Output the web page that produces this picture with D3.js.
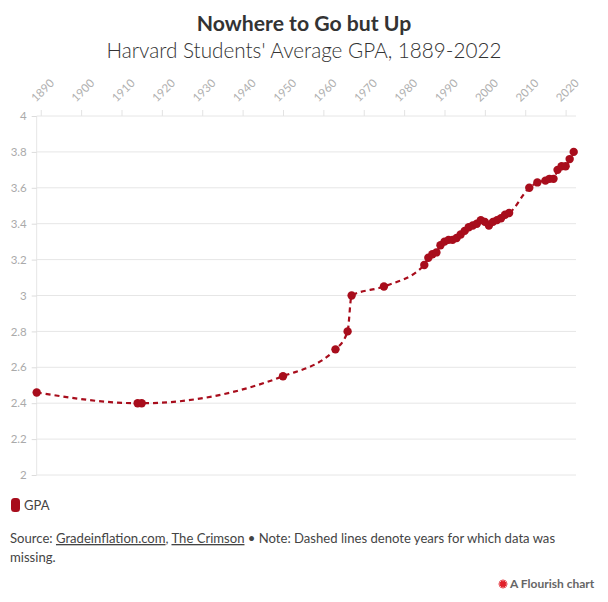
<!DOCTYPE html>
<html>
<head>
<meta charset="utf-8">
<script src="https://cdn.jsdelivr.net/npm/d3@7"></script>
<style>
  html, body { margin: 0; padding: 0; background: #fff; }
  svg { display: block; }
  text { font-family: Lato, "Source Sans Pro", "Noto Sans", sans-serif; }
</style>
</head>
<body>
<svg id="chart" width="608" height="602"></svg>
<script>
// ---- data ----
const years = [1889, 1914, 1915, 1950, 1963, 1966, 1967, 1975,
  1985, 1986, 1987, 1988, 1989, 1990, 1991, 1992, 1993, 1994, 1995,
  1996, 1997, 1998, 1999, 2000, 2001, 2002, 2003, 2004, 2005, 2006,
  2011, 2013, 2015, 2016, 2017, 2018, 2019, 2020, 2021, 2022];
const gpa = [2.46, 2.40, 2.40, 2.55, 2.70, 2.80, 3.00, 3.05,
  3.17, 3.21, 3.23, 3.24, 3.28, 3.30, 3.31, 3.31, 3.32, 3.34, 3.36,
  3.38, 3.39, 3.40, 3.42, 3.41, 3.39, 3.41, 3.42, 3.43, 3.45, 3.46,
  3.60, 3.63, 3.64, 3.65, 3.65, 3.70, 3.72, 3.72, 3.76, 3.80];
const xTickYears = [1890, 1900, 1910, 1920, 1930, 1940, 1950, 1960, 1970, 1980, 1990, 2000, 2010, 2020];
const yTickValues = [2, 2.2, 2.4, 2.6, 2.8, 3, 3.2, 3.4, 3.6, 3.8, 4];
const seriesName = "GPA";
const title = "Nowhere to Go but Up";
const subtitle = "Harvard Students' Average GPA, 1889-2022";

const data = years.map((y, i) => ({ year: y, gpa: gpa[i] }));

const red = "#a80d1c";
const svg = d3.select("#chart");

const x = d3.scaleLinear().domain([1889, 2022]).range([36.7, 573.7]);
const y = d3.scaleLinear().domain([2, 4]).range([475, 116]);
const plotRight = 576;

// titles
svg.append("text").attr("x", 304).attr("y", 31).attr("text-anchor", "middle")
  .attr("font-size", 21.2).attr("font-weight", 700).attr("fill", "#333").text(title);
svg.append("text").attr("x", 304).attr("y", 58).attr("text-anchor", "middle")
  .attr("font-size", 20.7).attr("font-weight", 300).attr("fill", "#333").text(subtitle);

// grid
const g = svg.append("g");
g.selectAll("line.grid").data(yTickValues).join("line")
  .attr("x1", x(1889)).attr("x2", plotRight)
  .attr("y1", d => y(d)).attr("y2", d => y(d))
  .attr("stroke", "#e6e6e6").attr("stroke-width", 1);

// y axis line
g.append("line").attr("x1", x(1889)).attr("x2", x(1889))
  .attr("y1", y(4)).attr("y2", y(2)).attr("stroke", "#e6e6e6");

// y axis ticks + labels
const yAxis = d3.axisLeft(y).tickValues(yTickValues).tickSize(5).tickPadding(5)
  .tickFormat(d => String(+d.toFixed(1)));
const ya = svg.append("g").attr("transform", `translate(${x(1889)},0)`).call(yAxis);
ya.select(".domain").remove();
ya.selectAll(".tick line").attr("stroke", "#dcdcdc");
ya.selectAll(".tick text").attr("fill", "#aaa").attr("font-size", 11.5)
  .attr("font-family", "Lato, sans-serif");

// x axis (top)
const xAxis = d3.axisTop(x).tickValues(xTickYears).tickSize(6).tickFormat(d3.format("d"));
const xa = svg.append("g").attr("transform", `translate(0,${y(4)})`).call(xAxis);
xa.select(".domain").remove();
xa.selectAll(".tick line").attr("stroke", "#e3e3e3");
xa.selectAll(".tick text").attr("fill", "#b0b0b0").attr("font-size", 11.5)
  .attr("font-family", "Lato, sans-serif")
  .attr("text-anchor", "middle").attr("dy", null).attr("y", null)
  .attr("dominant-baseline", "central")
  .attr("transform", "translate(1,-26) rotate(-45)");

// line
const line = d3.line().x(d => x(d.year)).y(d => y(d.gpa)).curve(d3.curveMonotoneX);
svg.append("path").datum(data).attr("d", line)
  .attr("fill", "none").attr("stroke", red).attr("stroke-width", 2.2)
  .attr("stroke-dasharray", "5,4");

// dots
svg.append("g").selectAll("circle").data(data).join("circle")
  .attr("cx", d => x(d.year)).attr("cy", d => y(d.gpa)).attr("r", 4.2)
  .attr("fill", red);

// legend
svg.append("rect").attr("x", 11).attr("y", 498).attr("width", 9).attr("height", 14)
  .attr("rx", 3.5).attr("fill", red);
svg.append("text").attr("x", 24).attr("y", 510).attr("font-size", 13)
  .attr("fill", "#444").text(seriesName);

// source
const src = svg.append("text").attr("x", 10).attr("y", 543).attr("font-size", 13.1).attr("fill", "#444");
src.append("tspan").text("Source: ");
src.append("tspan").attr("text-decoration", "underline").text("Gradeinflation.com");
src.append("tspan").text(", ");
src.append("tspan").attr("text-decoration", "underline").text("The Crimson");
src.append("tspan").text(" \u2022 Note: Dashed lines denote years for which data was");
svg.append("text").attr("x", 10).attr("y", 562).attr("font-size", 13.1).attr("fill", "#444").text("missing.");

// flourish credit
const logo = svg.append("g").attr("transform", "translate(503,584)");
d3.range(12).forEach(i => {
  const a = i * Math.PI / 6;
  logo.append("line").attr("x1", 0).attr("y1", 0)
    .attr("x2", 4.5 * Math.cos(a)).attr("y2", 4.5 * Math.sin(a))
    .attr("stroke", "#e0202a").attr("stroke-width", 1.3);
});
logo.append("circle").attr("r", 2.8).attr("fill", "#e0202a");
svg.append("text").attr("x", 510).attr("y", 588).attr("font-size", 12)
  .attr("font-family", "Liberation Sans, Arial, sans-serif").attr("font-weight", 700)
  .attr("fill", "#666").text("A Flourish chart");
</script>
</body>
</html>
